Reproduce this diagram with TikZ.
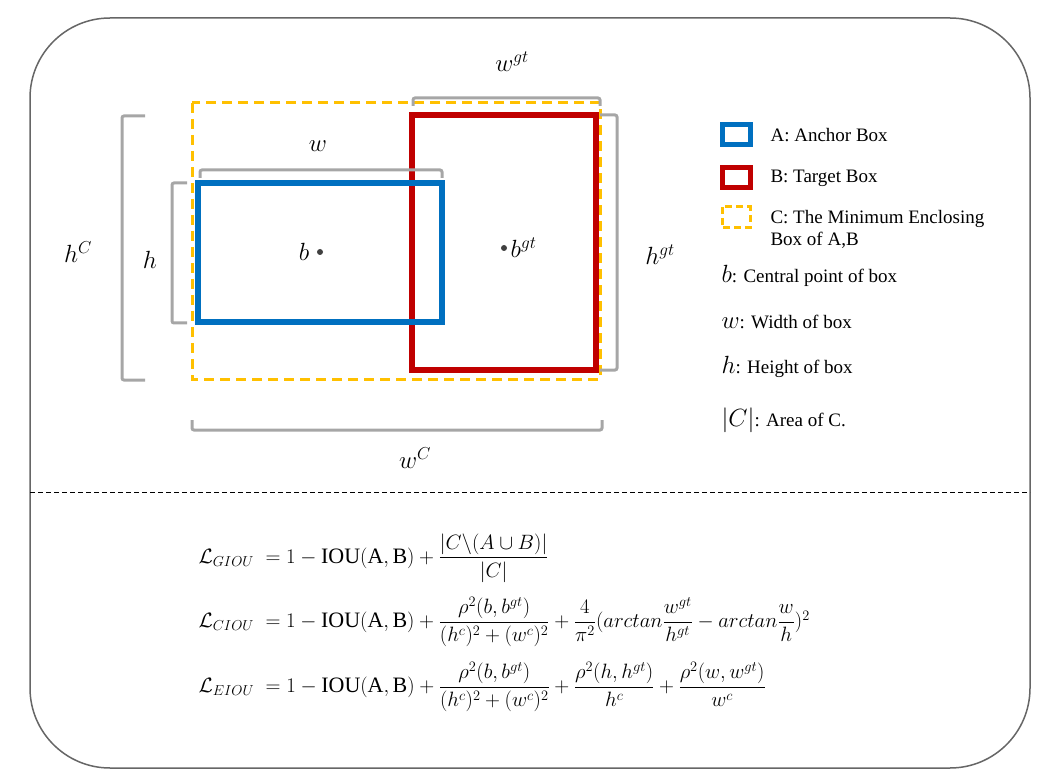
\documentclass[tikz,border=0pt]{standalone}
\usepackage{amsmath,amssymb}
\usepackage{fontspec}
\setmainfont{Liberation Serif}
\usepackage{tikz}
\usetikzlibrary{calc,positioning}
\definecolor{boxblue}{RGB}{0,112,192}
\definecolor{boxred}{RGB}{192,0,0}
\definecolor{boxyellow}{RGB}{255,192,0}
\begin{document}
\begin{tikzpicture}[x=1pt,y=-1pt,font=\fontsize{19}{22}\selectfont]
	\tikzset{
		brk/.style={draw=gray!70,line width=3pt,rounded corners=2pt},
		lbl/.style={font=\fontsize{27}{30}\selectfont},
		lgd/.style={anchor=west,font=\fontsize{19}{22}\selectfont},
		big dot/.style={circle,fill=black!75,inner sep=0pt,minimum size=6pt},
		formula/.style={anchor=west,font=\fontsize{22}{26}\selectfont}
	}
	\useasboundingbox (0,0) rectangle (1057,783);
	% frame
	\draw[gray!80!black,line width=1.5pt,rounded corners=80pt] (30,18) rectangle (1030,768);
	\draw[line width=1pt,dash pattern=on 5pt off 3pt] (30,492) -- (1030,492);
	% boxes
	\draw[boxred,line width=6pt] (412,115) rectangle (596,370);
	\draw[boxblue,line width=6pt] (198,183) rectangle (442,322);
	\draw[boxyellow,line width=3pt,dash pattern=on 10pt off 6pt] (192,103) rectangle (600,379);
	% brackets
	\draw[brk] (200,178) -- (200,170) -- (442,170) -- (442,178);
	\draw[brk] (413,106) -- (413,98) -- (600,98) -- (600,106);
	\draw[brk] (187,183) -- (172,183) -- (172,323) -- (187,323);
	\draw[brk] (145,116) -- (122,116) -- (122,380) -- (145,380);
	\draw[brk] (600,115) -- (617,115) -- (617,370) -- (600,370);
	\draw[brk] (192,420) -- (192,430) -- (602,430) -- (602,420);
	\node[lbl] (lw) at (318,146) {$w$};
	\node[lbl] (lwgt) at (512,62) {$w^{gt}$};
	\node[lbl] (lh) at (150,260) {$h$};
	\node[lbl] (lhc) at (78,252) {$h^{C}$};
	\node[lbl] (lhgt) at (660,255) {$h^{gt}$};
	\node[lbl] (lwc) at (415,458) {$w^{C}$};
	% centres
	\node[big dot] (b) at (320,252) {};
	\node[lbl,left=4pt of b] (lb) {$b$};
	\node[big dot] (bgt) at (504,248) {};
	\node[lbl,right=0pt of bgt] (lbgt) {$b^{gt}$};
	% legend
	\draw[boxblue,line width=5pt] (722,125) rectangle (750,145);
	\draw[boxred,line width=5pt] (722,168) rectangle (750,188);
	\draw[boxyellow,line width=3pt,dash pattern=on 7pt off 4pt] (722,207) rectangle (750,228);
	\node[lgd] (la) at (767,135) {A: Anchor Box};
	\node[lgd] (lbb) at (767,178) {B: Target Box};
	\node[lgd,align=left,inner ysep=0pt] (lc) at (767,229) {C: The Minimum Enclosing\\Box of A,B};
	\node[lgd] (ld1) at (718,276) {{\fontsize{27}{30}\selectfont$b$}: Central point of box};
	\node[lgd] (ld2) at (718,322) {{\fontsize{27}{30}\selectfont$w$}: Width of box};
	\node[lgd] (ld3) at (718,367) {{\fontsize{27}{30}\selectfont$h$}: Height of box};
	\node[lgd] (ld4) at (718,420) {{\fontsize{27}{30}\selectfont$|C|$}: Area of C.};
	% formulas
	\node[formula] (fg) at (195,558) {$\mathcal{L}_{GIOU}\;=1-\mathrm{IOU(A,B)}+\dfrac{|C\backslash(A\cup B)|}{|C|}$};
	\node[formula] (fc) at (195,622) {$\mathcal{L}_{CIOU}\;=1-\mathrm{IOU(A,B)}+\dfrac{\rho^{2}(b,b^{gt})}{(h^{c})^{2}+(w^{c})^{2}}+\dfrac{4}{\pi^{2}}(arctan\dfrac{w^{gt}}{h^{gt}}-arctan\dfrac{w}{h})^{2}$};
	\node[formula] (fe) at (195,687) {$\mathcal{L}_{EIOU}\;=1-\mathrm{IOU(A,B)}+\dfrac{\rho^{2}(b,b^{gt})}{(h^{c})^{2}+(w^{c})^{2}}+\dfrac{\rho^{2}(h,h^{gt})}{h^{c}}+\dfrac{\rho^{2}(w,w^{gt})}{w^{c}}$};
\end{tikzpicture}
\end{document}
